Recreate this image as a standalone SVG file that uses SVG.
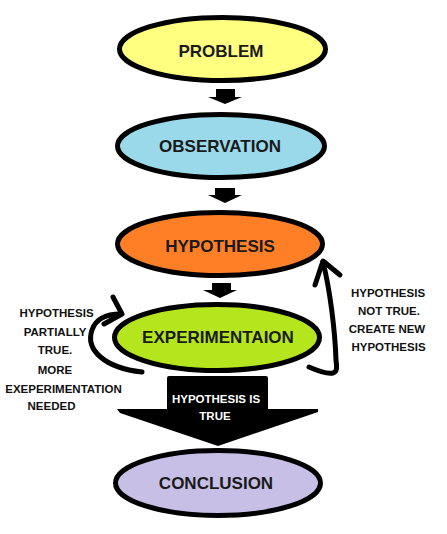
<svg xmlns="http://www.w3.org/2000/svg" width="447" height="534" viewBox="0 0 447 534">
<style>
.node{stroke:#000;stroke-width:5}
.lbl{font-family:"Liberation Sans",Arial,sans-serif;font-weight:bold;font-size:17px;fill:#1a1a1a;text-anchor:middle}
.side{font-family:"Liberation Sans",Arial,sans-serif;font-weight:bold;font-size:11.5px;fill:#111;text-anchor:middle}
.wt{font-family:"Liberation Sans",Arial,sans-serif;font-weight:bold;font-size:11.5px;fill:#fff;text-anchor:middle}
.curve{fill:none;stroke:#000;stroke-width:5;stroke-linecap:round;stroke-linejoin:round}
</style>
<rect width="447" height="534" fill="#fff"/>
<g id="connectors">
<polygon points="216,89 235,89 235,97 242,97 225,104 208,97 216,97" fill="#000"/>
<polygon points="215,188 235,188 235,195 242,195 225,203 208,195 215,195" fill="#000"/>
<polygon points="212,283 231,283 231,290 237,290 220,298 203,290 212,290" fill="#000"/>
<path d="M142,372 C105,368 85,350 92,330 C96,318 108,314 121,314" class="curve"/>
<path d="M113,297 L122,314 L104,324" class="curve"/>
<path d="M309,367 C318,371 328,374 333,373 C337,372 337,368 336,360 C335,330 330,290 323,262" class="curve"/>
<path d="M315,285 L323,261 L340,275" class="curve"/>
</g>
<g id="problem">
<ellipse cx="222.5" cy="49" rx="103" ry="31.5" fill="#FFFF80" class="node"/>
<text x="221" y="57" class="lbl">PROBLEM</text>
</g>
<g id="observation">
<ellipse cx="221" cy="146" rx="103.5" ry="31.5" fill="#99D9EA" class="node"/>
<text x="220" y="152" class="lbl">OBSERVATION</text>
</g>
<g id="hypothesis">
<ellipse cx="220" cy="244" rx="102.5" ry="31.5" fill="#FF7F27" class="node"/>
<text x="220" y="252" class="lbl">HYPOTHESIS</text>
</g>
<g id="experimentation">
<ellipse cx="217" cy="337.5" rx="102.5" ry="33" fill="#B5E61D" class="node"/>
<text x="218" y="343" class="lbl">EXPERIMENTAION</text>
</g>
<g id="conclusion">
<ellipse cx="218" cy="483" rx="102.5" ry="32.5" fill="#C8BFE7" class="node"/>
<text x="216" y="489" class="lbl">CONCLUSION</text>
</g>
<g id="true-arrow">
<path d="M169,376 L266,376 Q268,376 268,378 L268,409 L318,409 L318,412 L218,446 L120,413 L117,409 L167,409 L167,378 Q167,376 169,376 Z" fill="#000"/>
<text x="216" y="403" class="wt">HYPOTHESIS IS</text>
<text x="215" y="420" class="wt">TRUE</text>
</g>
<g id="partial-label">
<text x="56.5" y="317" class="side">HYPOTHESIS</text>
<text x="55" y="336" class="side">PARTIALLY</text>
<text x="55" y="354" class="side">TRUE.</text>
<text x="55" y="374" class="side">MORE</text>
<text x="63.5" y="393" class="side">EXEPERIMENTATION</text>
<text x="51.5" y="410" class="side">NEEDED</text>
</g>
<g id="not-true-label">
<text x="388" y="297" class="side">HYPOTHESIS</text>
<text x="389" y="315" class="side">NOT TRUE.</text>
<text x="387" y="333" class="side">CREATE NEW</text>
<text x="388.5" y="351" class="side">HYPOTHESIS</text>
</g>
</svg>
